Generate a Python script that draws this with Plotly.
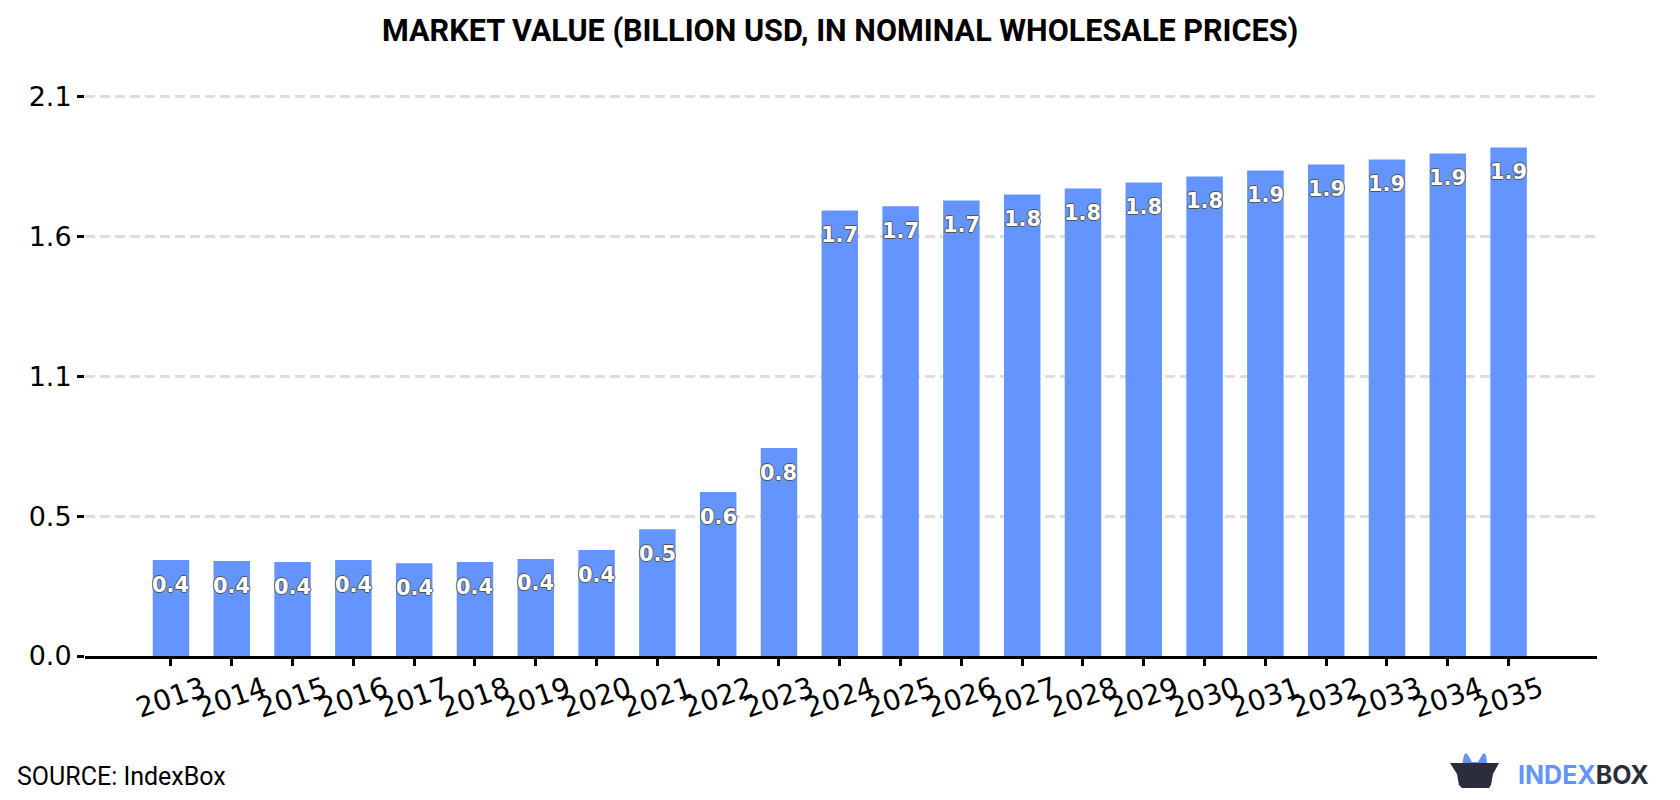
import plotly.graph_objects as go

# Market value series, billion USD
years = [str(y) for y in range(2013, 2036)]
values = [0.367, 0.363, 0.359, 0.367, 0.355, 0.359, 0.371, 0.405, 0.485, 0.627, 0.795,
          1.704, 1.720, 1.742, 1.765, 1.788, 1.811, 1.834, 1.857, 1.880, 1.899, 1.922, 1.945]
y_ticks = [0, 0.535, 1.07, 1.605, 2.14]

title_text = "MARKET VALUE (BILLION USD, IN NOMINAL WHOLESALE PRICES)"
source_text = "SOURCE: IndexBox"

BAR_BLUE = "#6495FF"
LOGO_DARK = "#2B2D3A"

W, H = 1680, 800
L, R, T, B = 85, 1597, 90, 656
Y_TOP = 2.14 * (B - T) / 559.6


def px(x):
    return (x - L) / (R - L)


def py(y):
    return (B - y) / (B - T)


def logo_path(points):
    """Closed SVG path in paper coordinates from pixel points."""
    parts = [f"{px(x):.5f},{py(y):.5f}" for x, y in points]
    return "M" + " L".join(parts) + " Z"


box_body = [(1450, 763), (1499, 763), (1493, 774), (1491, 785), (1489, 788),
            (1462, 788), (1459, 785), (1457, 774)]
box_lid = [(1461, 771), (1464, 755), (1466, 753), (1468, 755), (1472, 762), (1478, 762),
           (1482, 755), (1484, 753), (1486, 755), (1487, 763), (1480, 763), (1475, 771)]

fig = go.Figure(go.Bar(
    x=list(range(len(years))),
    y=values,
    width=0.6,
    marker=dict(color=BAR_BLUE, line=dict(width=0)),
    hoverinfo="x+y",
))

# Crisp one-pixel halo round the white value labels
outline = "-1px 0 0 #555, 1px 0 0 #555, 0 -1px 0 #555, 0 1px 0 #555"
annotations = [
    dict(x=i, y=v, yshift=-24.5, text=f"{v:.1f}", showarrow=False, xanchor="center", yanchor="middle",
         font=dict(family="DejaVu Sans", size=21, color="white", weight="bold", shadow=outline))
    for i, v in enumerate(values)
]
annotations += [
    dict(xref="paper", yref="paper", x=px(840), y=py(31), text=f"<b>{title_text}</b>", showarrow=False,
         xanchor="center", yanchor="middle", font=dict(family="Roboto", size=30.6, color="black")),
    dict(xref="paper", yref="paper", x=px(15), y=py(776), text=source_text, showarrow=False,
         xanchor="left", yanchor="middle", font=dict(family="Roboto", size=25, color="black")),
    dict(xref="paper", yref="paper", x=px(1516), y=py(775), showarrow=False, xanchor="left", yanchor="middle",
         text=f'<b><span style="color:{BAR_BLUE}">INDEX</span><span style="color:{LOGO_DARK}">BOX</span></b>',
         font=dict(family="Inter", size=25)),
]

fig.update_layout(
    width=W,
    height=H,
    autosize=False,
    margin=dict(l=L, r=W - R, t=T, b=H - B, pad=0),
    paper_bgcolor="white",
    plot_bgcolor="white",
    showlegend=False,
    annotations=annotations,
    shapes=[
        dict(type="path", xref="paper", yref="paper", path=logo_path(box_lid),
             fillcolor=BAR_BLUE, line=dict(width=0)),
        dict(type="path", xref="paper", yref="paper", path=logo_path(box_body),
             fillcolor=LOGO_DARK, line=dict(width=0)),
    ],
    xaxis=dict(
        range=[-1.414, 23.454],
        tickmode="array",
        tickvals=list(range(len(years))),
        ticktext=years,
        tickangle=-19,
        ticklabelshift=32,
        ticklabelstandoff=-4,
        tickfont=dict(family="DejaVu Sans", size=28, color="black"),
        ticks="outside",
        ticklen=7,
        tickwidth=3,
        tickcolor="black",
        showline=True,
        linecolor="black",
        linewidth=3,
        showgrid=False,
        zeroline=False,
    ),
    yaxis=dict(
        range=[0, Y_TOP],
        tickmode="array",
        tickvals=y_ticks,
        tickformat=".1f",
        tickfont=dict(family="DejaVu Sans", size=27, color="black"),
        ticks="outside",
        ticklen=7,
        tickwidth=3,
        tickcolor="black",
        showline=False,
        showgrid=True,
        gridcolor="#DDDDDD",
        gridwidth=3,
        griddash="10px,5px",
        zeroline=False,
    ),
)

fig.write_html("out.html")
